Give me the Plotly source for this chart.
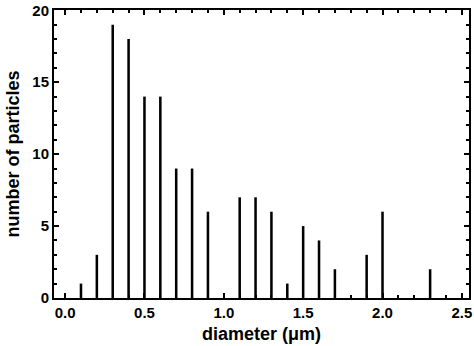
import plotly.graph_objects as go

diameters = [0.1, 0.2, 0.3, 0.4, 0.5, 0.6, 0.7, 0.8, 0.9, 1.1, 1.2, 1.3, 1.4, 1.5, 1.6, 1.7, 1.9, 2.0, 2.3]
counts = [1, 3, 19, 18, 14, 14, 9, 9, 6, 7, 7, 6, 1, 5, 4, 2, 3, 6, 2]
x_ticks = [0.0, 0.5, 1.0, 1.5, 2.0, 2.5]
x_tick_labels = ["0.0", "0.5", "1.0", "1.5", "2.0", "2.5"]
y_ticks = [0, 5, 10, 15, 20]
y_tick_labels = ["0", "5", "10", "15", "20"]

fig = go.Figure()
fig.add_trace(go.Bar(x=diameters, y=counts, width=0.016,
                     marker=dict(color="black", line=dict(width=0))))

font = dict(family="Liberation Sans, Arial, sans-serif", color="black")
axis_common = dict(showline=True, linecolor="black", linewidth=2, mirror="ticks",
                   ticks="inside", ticklen=5, tickwidth=2, tickcolor="black",
                   showgrid=False, zeroline=False, ticklabeloverflow="allow",
                   tickfont=dict(size=15, **font))

fig.update_xaxes(range=[-0.07, 2.545], tickvals=x_ticks,
                 ticktext=["<b>%s</b>" % t for t in x_tick_labels],
                 minor=dict(dtick=0.1, ticks="inside", ticklen=3, tickwidth=2, tickcolor="black"),
                 title=dict(text="<b>diameter (μm)</b>", font=dict(size=18, **font), standoff=7),
                 **axis_common)
fig.update_yaxes(range=[0, 20.02], tickvals=y_ticks,
                 ticktext=["<b>%s</b>" % t for t in y_tick_labels],
                 minor=dict(dtick=1, ticks="inside", ticklen=3, tickwidth=2, tickcolor="black"),
                 title=dict(text="<b>number of particles</b>", font=dict(size=18, **font), standoff=8),
                 **axis_common)

fig.update_layout(width=474, height=346, margin=dict(l=54, r=2, t=5, b=48),
                  plot_bgcolor="white", paper_bgcolor="white", showlegend=False,
                  font=dict(family="Liberation Sans, Arial, sans-serif", size=15, color="black"))

fig.write_html("out.html")
